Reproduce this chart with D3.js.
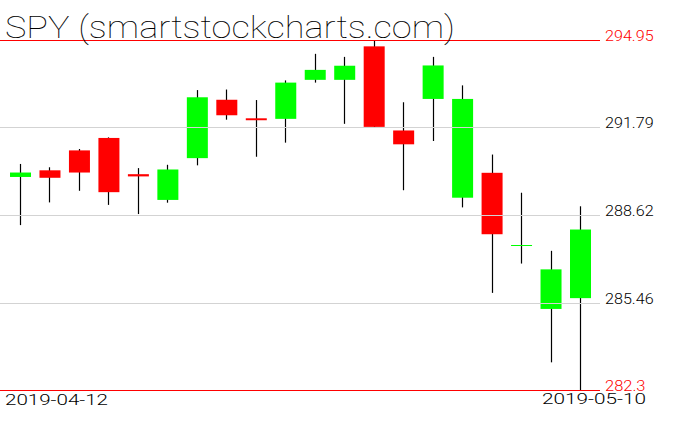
<!DOCTYPE html>
<html>
<head>
<meta charset="utf-8">
<script src="https://cdn.jsdelivr.net/npm/d3@7"></script>
<style>
  html, body { margin: 0; padding: 0; background: #fff; }
  svg { display: block; }
  text { font-family: "Roboto", sans-serif; }
</style>
</head>
<body>
<svg id="chart" width="676" height="431"></svg>
<script>
const title = "SPY (smartstockcharts.com)";
const dates = ["2019-04-12","2019-04-15","2019-04-16","2019-04-17","2019-04-18",
               "2019-04-22","2019-04-23","2019-04-24","2019-04-25","2019-04-26",
               "2019-04-29","2019-04-30","2019-05-01","2019-05-02","2019-05-03",
               "2019-05-06","2019-05-07","2019-05-08","2019-05-09","2019-05-10"];
const opens  = [290.00,290.24,290.96,291.41,290.10,289.17,290.68,292.79,292.12,292.10,
                293.51,293.51,294.72,291.68,292.82,289.25,290.15,287.53,285.23,285.62];
const highs  = [290.47,290.35,291.01,291.43,290.32,290.44,293.14,293.16,292.78,293.49,
                294.45,294.34,294.95,292.70,294.34,293.31,290.81,289.43,287.33,288.94];
const lows   = [288.26,289.08,289.50,288.99,288.66,289.07,290.42,292.07,290.73,291.24,
                293.41,291.92,291.80,289.52,291.30,288.90,285.81,286.87,283.30,282.30];
const closes = [290.16,289.97,290.16,289.45,290.02,290.27,292.88,292.23,292.05,293.41,
                293.87,294.02,291.81,291.18,294.03,292.82,287.93,287.53,286.66,288.10];
const tickValues = [282.3, 285.4625, 288.625, 291.7875, 294.95];
const tickLabels = ["282.3", "285.46", "288.62", "291.79", "294.95"];
const dateLabels = ["2019-04-12", "2019-05-10"];

const svg = d3.select("#chart");
const plotRight = 600;

const candles = dates.map((d, i) => ({date: d, o: opens[i], h: highs[i], l: lows[i], c: closes[i]}));

const x = d3.scalePoint().domain(dates).range([20.5, 580.5]);
const y = d3.scaleLinear().domain([d3.min(lows), d3.max(highs)]).range([390, 40]);
const bodyW = 21;

const gC = svg.append("g");
gC.selectAll("line.wick").data(candles).join("line")
  .attr("class", "wick")
  .attr("x1", d => Math.floor(x(d.date)) + 0.5)
  .attr("x2", d => Math.floor(x(d.date)) + 0.5)
  .attr("y1", d => y(d.h))
  .attr("y2", d => y(d.l))
  .attr("stroke", "#000").attr("stroke-width", 1.2);
gC.selectAll("rect.body").data(candles.filter(d => d.o !== d.c)).join("rect")
  .attr("class", "body")
  .attr("x", d => x(d.date) - bodyW / 2)
  .attr("width", bodyW)
  .attr("y", d => y(Math.max(d.o, d.c)))
  .attr("height", d => Math.max(1, Math.abs(y(d.o) - y(d.c))))
  .attr("fill", d => d.c > d.o ? "#00ff00" : "#ff0000");
gC.selectAll("line.doji").data(candles.filter(d => d.o === d.c)).join("line")
  .attr("class", "doji")
  .attr("x1", d => x(d.date) - bodyW / 2)
  .attr("x2", d => x(d.date) + bodyW / 2)
  .attr("y1", d => Math.round(y(d.o)) + 0.5)
  .attr("y2", d => Math.round(y(d.o)) + 0.5)
  .attr("stroke", "#00ff00").attr("stroke-width", 1);

const yAxis = d3.axisRight(y).tickValues(tickValues)
  .tickFormat((d, i) => tickLabels[i]).tickSize(0).tickPadding(0);
const gA = svg.append("g").call(yAxis);
gA.select(".domain").remove();
gA.selectAll(".tick").each(function(d, i) {
  const g = d3.select(this);
  const edge = (i === 0 || i === tickValues.length - 1);
  g.attr("transform", `translate(0,${Math.round(y(d)) + 0.5})`);
  g.select("line").attr("x1", 0).attr("x2", plotRight)
    .attr("stroke", edge ? "#ff0000" : "#d3d3d3").attr("stroke-width", 1);
  g.select("text")
    .attr("x", 605).attr("y", 0).attr("dy", "0.5")
    .attr("text-anchor", "start")
    .style("font-family", "Roboto").style("font-size", "15px").style("font-weight", 300)
    .attr("fill", edge ? "#ff0000" : "#000")
    .attr("textLength", tickLabels[i].length * 8.1).attr("lengthAdjust", "spacingAndGlyphs");
});

svg.append("text").attr("x", 5).attr("y", 405)
  .style("font-size", "15px").style("font-weight", 300).attr("fill", "#000")
  .attr("textLength", 103).attr("lengthAdjust", "spacingAndGlyphs")
  .text(dateLabels[0]);
svg.append("text").attr("x", 542).attr("y", 404)
  .style("font-size", "15px").style("font-weight", 300).attr("fill", "#000")
  .attr("textLength", 104).attr("lengthAdjust", "spacingAndGlyphs")
  .text(dateLabels[1]);

svg.append("text").attr("x", 5).attr("y", 38)
  .style("font-size", "32px").style("font-weight", 100).attr("fill", "#000")
  .attr("textLength", 450).attr("lengthAdjust", "spacingAndGlyphs")
  .text(title);
</script>
</body>
</html>
